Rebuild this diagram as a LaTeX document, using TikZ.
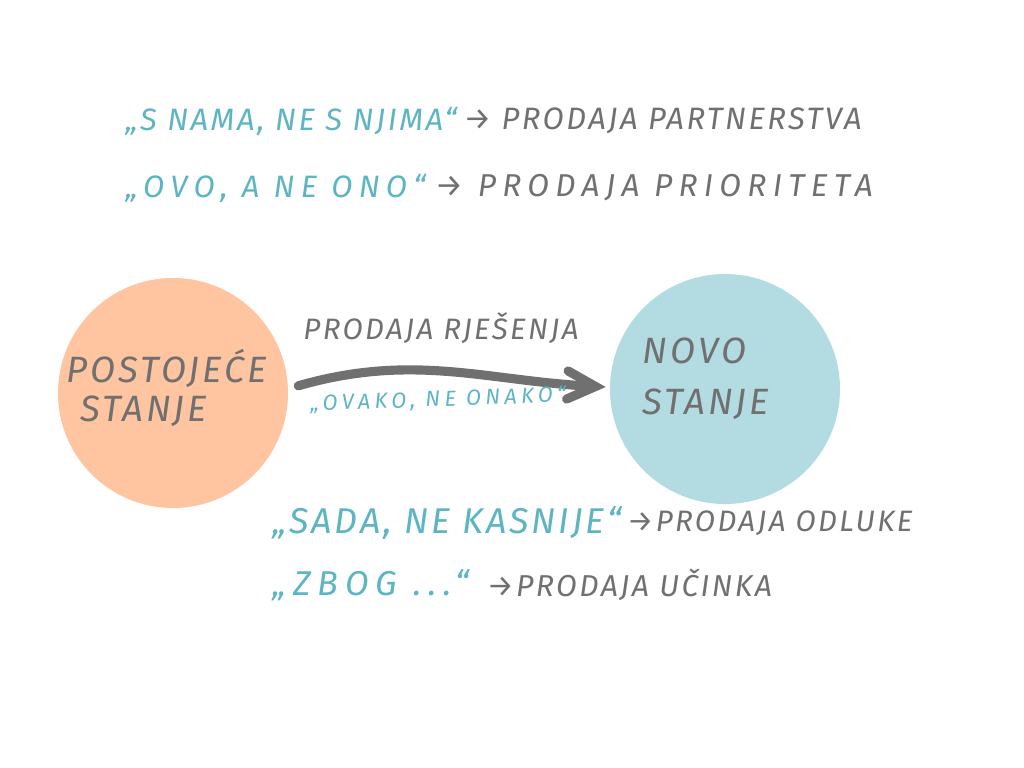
\documentclass[tikz,border=0pt]{standalone}
\usepackage{fontspec}
\setmainfont{Fira Sans}
\newfontfamily\hand[LetterSpace=8]{Fira Sans}
\newfontfamily\handwide[LetterSpace=20]{Fira Sans}
\usetikzlibrary{positioning,arrows.meta}
\definecolor{peach}{HTML}{FFC4A0}
\definecolor{pale}{HTML}{B3DCE2}
\definecolor{quotecol}{HTML}{5DB5C4}
\definecolor{ink}{HTML}{707070}
\newcommand\fs[1]{\fontsize{#1}{#1}\selectfont}
\begin{document}
\begin{tikzpicture}[x=0.025cm,y=-0.025cm,
  said/.style={text=quotecol, inner sep=0, font=\hand\itshape\fs{22}},
  sold/.style={text=ink, inner sep=0, font=\hand\itshape\fs{22}},
  state/.style={circle, inner sep=0, minimum size=5.75cm},
  flow/.style={draw=ink, line width=6.5pt, line cap=round, -{Straight Barb[length=20pt,width=20pt,line cap=round]}}]
\useasboundingbox (0,0) rectangle (1024,768);
% two states
\node[state, fill=peach] (old) at (173,393) {};
\node[state, fill=pale] (new) at (725,389) {};
\node[sold, align=left, font=\hand\itshape\fontsize{26}{28}\selectfont] (oldtxt) at (167,388) {POSTOJEĆE\\\hspace{0.35cm}STANJE};
\node[sold, align=left, font=\hand\itshape\fontsize{26}{36}\selectfont] (newtxt) at (706,379) {NOVO\\STANJE};
% arrow between them
\draw[flow] ([xshift=.25cm,yshift=.18cm]old.east) to[out=16,in=177] ([xshift=-.1cm,yshift=.05cm]new.west);
\node[sold, font=\hand\itshape\fs{21}] (sol) at (441,328) {PRODAJA RJEŠENJA};
\node[said, rotate=2, font=\handwide\itshape\fs{15.5}] (how) at (438,400) {„OVAKO, NE ONAKO“};
% slogans
\node[said, anchor=west] (q1) at (125,121) {„S NAMA, NE S NJIMA“};
\node[sold, right=4pt of q1] (p1) {→ PRODAJA PARTNERSTVA};
\node[said, anchor=west, font=\handwide\itshape\fs{22}] (q2) at (125,188) {„OVO, A NE ONO“};
\node[sold, right=6pt of q2, font=\handwide\itshape\fs{22.5}] (p2) {→ PRODAJA PRIORITETA};
\node[said, anchor=west, font=\hand\itshape\fs{25.5}] (q3) at (272,523) {„SADA, NE KASNIJE“};
\node[sold, right=3pt of q3, font=\hand\itshape\fs{21}] (p3) {→PRODAJA ODLUKE};
\node[said, anchor=west, font=\handwide\itshape\fs{24.5}] (q4) at (272,585) {„ZBOG ...“};
\node[sold, right=12pt of q4, font=\hand\itshape\fs{21.5}] (p4) {→PRODAJA UČINKA};
\end{tikzpicture}
\end{document}
